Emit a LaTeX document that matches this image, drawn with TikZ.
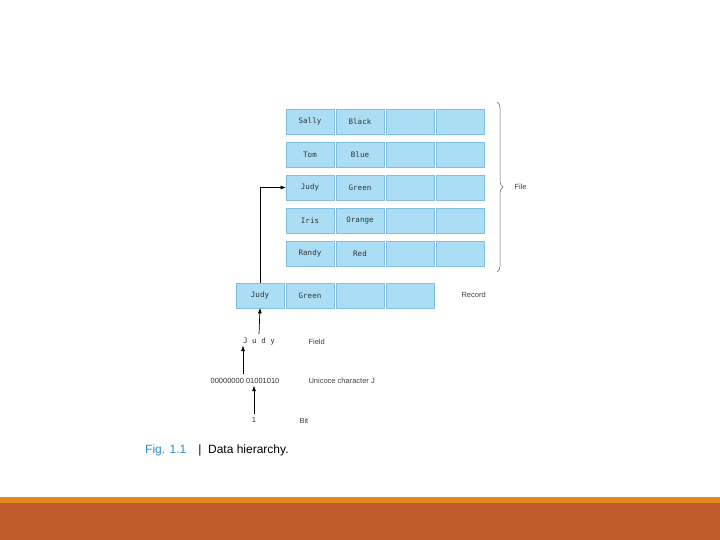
\documentclass[tikz,border=0pt]{standalone}
\usepackage{fontspec}
\setmainfont{Liberation Sans}
\newfontfamily\cellfont{DejaVu Sans Mono}
\usetikzlibrary{decorations.pathreplacing,arrows.meta}
\definecolor{cellfill}{HTML}{ABDDF5}
\definecolor{celledge}{HTML}{7FBEDD}
\definecolor{figblue}{HTML}{2A8CC8}
\definecolor{orangebar}{HTML}{E08A1E}
\definecolor{rustbar}{HTML}{BE5A2B}
\begin{document}
\begin{tikzpicture}[x=1pt,y=-1pt,
  cellbox/.style={draw=celledge,fill=cellfill,line width=0.8pt,minimum width=48pt,minimum height=25pt,inner sep=0pt,font=\cellfont\fontsize{7.5}{9}\selectfont,text=black!80},
  lbl/.style={font=\fontsize{7.5}{9}\selectfont,text=black!75,anchor=west},
  arr/.style={-{Triangle[length=5pt,width=3.5pt]},line width=0.7pt}]
\useasboundingbox (0,0) rectangle (720,540);
\fill[white] (0,0) rectangle (720,540);
\foreach \r/\y/\a/\b in {1/121.5/Sally/Black,2/154.5/Tom/Blue,3/187.5/Judy/Green,4/220.5/Iris/Orange,5/253.5/Randy/Red}{
  \node[cellbox] (r\r c1) at (310,\y) {\a};
  \node[cellbox] (r\r c2) at (360,\y) {\b};
  \node[cellbox] (r\r c3) at (410,\y) {};
  \node[cellbox] (r\r c4) at (460,\y) {};
}
\node[cellbox] (rc1) at (260,295.5) {Judy};
\node[cellbox] (rc2) at (310,295.5) {Green};
\node[cellbox] (rc3) at (360,295.5) {};
\node[cellbox] (rc4) at (410,295.5) {};
\draw[decorate,decoration={brace,amplitude=6pt},black!60,line width=0.5pt] (497,102) -- (497,272);
\node[lbl] (file) at (511,187) {File};
\node[lbl] (record) at (458,295) {Record};
\draw[arr] (rc1.north) -- (260,187.5) -- (r3c1.west);
\node[font=\cellfont\fontsize{7.5}{9}\selectfont,text=black!80] (field) at (259,341) {J u d y};
\node[lbl] (fieldl) at (305,342) {Field};
\draw[arr] (field.north) -- (rc1.south);
\node[font=\fontsize{7.5}{9}\selectfont,text=black!80] (bits) at (245,381) {00000000 01001010};
\node[lbl] (uni) at (305,381) {Unicoce character J};
\coordinate (jpos) at (243,346);
\draw[arr] (243,374) -- (jpos);
\node[font=\fontsize{7.5}{9}\selectfont,text=black!80] (bit) at (254,420) {1};
\node[lbl] (bitl) at (296,421) {Bit};
\coordinate (bpos) at (254,386);
\draw[arr] (bit.north) -- (bpos);
\node[anchor=west,inner sep=0pt,font=\fontsize{12}{14}\selectfont] (cap) at (145,450) {\textcolor{figblue}{Fig. 1.1}\quad|\ \ Data hierarchy.};
\fill[orangebar] (0,497) rectangle (720,503);
\fill[rustbar] (0,503) rectangle (720,540);
\end{tikzpicture}
\end{document}
